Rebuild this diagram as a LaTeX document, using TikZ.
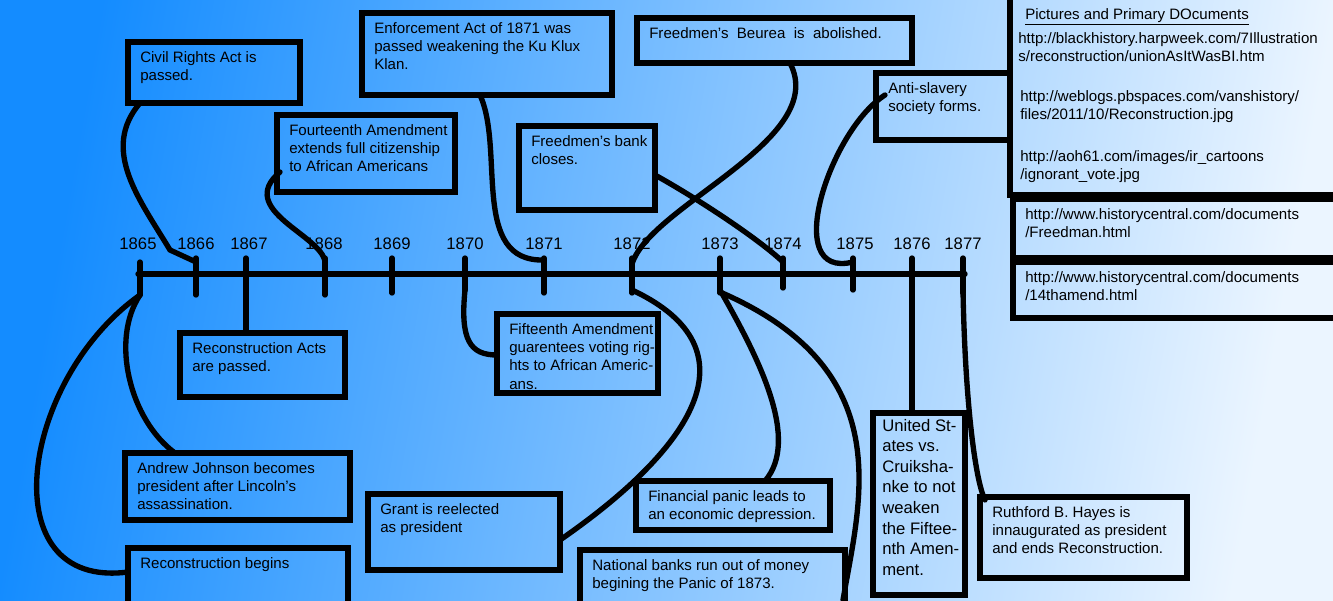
\documentclass[tikz,border=0pt]{standalone}
\usepackage{fontspec}
\setmainfont{Liberation Sans}
\begin{document}
\begin{tikzpicture}[x=0.75pt,y=-0.75pt,
  bl/.style={line width=4pt,black},
  ln/.style={line width=4pt,black,line cap=round},
  txt/.style={anchor=north west,align=left,font=\fontsize{11.3}{13.8}\selectfont,inner sep=0pt},
  yr/.style={font=\fontsize{12.5}{14}\selectfont,inner sep=0pt}]
\useasboundingbox (0,0) rectangle (1333,600);
\shade[left color={rgb,255:red,20;green,140;blue,255},right color={rgb,255:red,235;green,245;blue,255},shading angle=80] (0,0) rectangle (1333,600);
\newcommand\bx[6]{\draw[bl] (#2,#3) rectangle (#4,#5); \node[txt] (#1) at (#2+12,#3+9) {#6};}
\bx{civ}{128}{42}{300}{103}{Civil Rights Act is\\passed.}
\bx{enf}{362}{13}{612}{95}{Enforcement Act of 1871 was\\passed weakening the Ku Klux\\Klan.}
\bx{fbu}{637}{18}{912}{63}{Freedmen's\ \ Beurea\ \ is\ \ abolished.}
\bx{fou}{277}{115}{455}{192}{Fourteenth Amendment\\extends full citizenship\\to African Americans}
\bx{fba}{519}{126}{655}{210}{Freedmen's bank\\closes.}
\bx{ant}{876}{73}{1010}{140}{Anti-slavery\\society forms.}
\draw[bl] (1010,-5) rectangle (1340,195);
\node[txt] at (1025,8) {\underline{Pictures and Primary DOcuments}};
\node[txt] at (1018,32) {http://blackhistory.harpweek.com/7Illustration\\s/reconstruction/unionAsItWasBI.htm};
\node[txt] at (1020,90) {http://weblogs.pbspaces.com/vanshistory/\\files/2011/10/Reconstruction.jpg};
\node[txt] at (1020,150) {http://aoh61.com/images/ir\_cartoons\\/ignorant\_vote.jpg};
\bx{hc1}{1013}{199}{1340}{258}{http://www.historycentral.com/documents\\/Freedman.html}
\bx{hc2}{1013}{262}{1340}{318}{http://www.historycentral.com/documents\\/14thamend.html}
\bx{rac}{180}{333}{345}{397}{Reconstruction Acts\\are passed.}
\bx{fif}{497}{314}{658}{393}{Fifteenth Amendment\\guarentees voting rig-\\hts to African Americ-\\ans.}
\bx{aj}{125}{453}{350}{520}{Andrew Johnson becomes\\president after Lincoln's\\assassination.}
\bx{rb}{128}{548}{348}{605}{Reconstruction begins}
\bx{gr}{368}{494}{560}{570}{Grant is reelected\\as president}
\bx{fp}{636}{481}{830}{530}{Financial panic leads to\\an economic depression.}
\bx{nb}{580}{550}{845}{605}{National banks run out of money\\begining the Panic of 1873.}
\draw[bl] (873,413) rectangle (965,595);
\node[txt,font=\fontsize{12.5}{15.4}\selectfont] (us) at (882,419) {United St-\\ates vs.\\Cruiksha-\\nke to not\\weaken\\the Fiftee-\\nth Amen-\\ment.};
\bx{rh}{980}{497}{1187}{578}{Ruthford B. Hayes is\\innaugurated as president\\and ends Reconstruction.}
% timeline
\draw[ln] (138,274) -- (965,274);
\foreach \x/\a/\b in {140/262/295,196/258/295,246/258/333,325/258/295,392/258/293,465/258/290,544/258/293,632/258/293,720/258/293,783/258/288,853/258/290,912/258/413,963/258/293}{
  \draw[ln] (\x,\a) -- (\x,\b);
}
\foreach \x/\t in {138/1865,196/1866,249/1867,324/1868,392/1869,465/1870,544/1871,632/1872,720/1873,783/1874,855/1875,912/1876,963/1877}{
  \node[yr] at (\x,244) {\t};
}
% connectors
\draw[ln] (140,103) .. controls (100,150) and (140,200) .. (170,250) -- (196,262);
\draw[ln] (280,172) .. controls (235,210) and (322,235) .. (325,262);
\draw[ln] (480,95) .. controls (505,150) and (470,262) .. (544,260);
\draw[ln] (790,63) .. controls (830,140) and (650,205) .. (632,264);
\draw[ln] (655,175) .. controls (700,200) and (760,240) .. (783,262);
\draw[ln] (885,95) .. controls (830,130) and (780,280) .. (853,262);
\draw[ln] (465,290) .. controls (460,340) and (470,355) .. (497,355);
\draw[ln] (140,295) .. controls (110,340) and (130,420) .. (175,453);
\draw[ln] (140,295) .. controls (20,380) and (-10,590) .. (128,572);
\draw[ln] (632,290) .. controls (760,350) and (690,450) .. (560,540);
\draw[ln] (720,290) .. controls (760,360) and (800,440) .. (765,481);
\draw[ln] (720,292) .. controls (900,370) and (860,500) .. (843,600);
\draw[ln] (963,290) .. controls (965,400) and (975,480) .. (985,500);
\end{tikzpicture}
\end{document}
